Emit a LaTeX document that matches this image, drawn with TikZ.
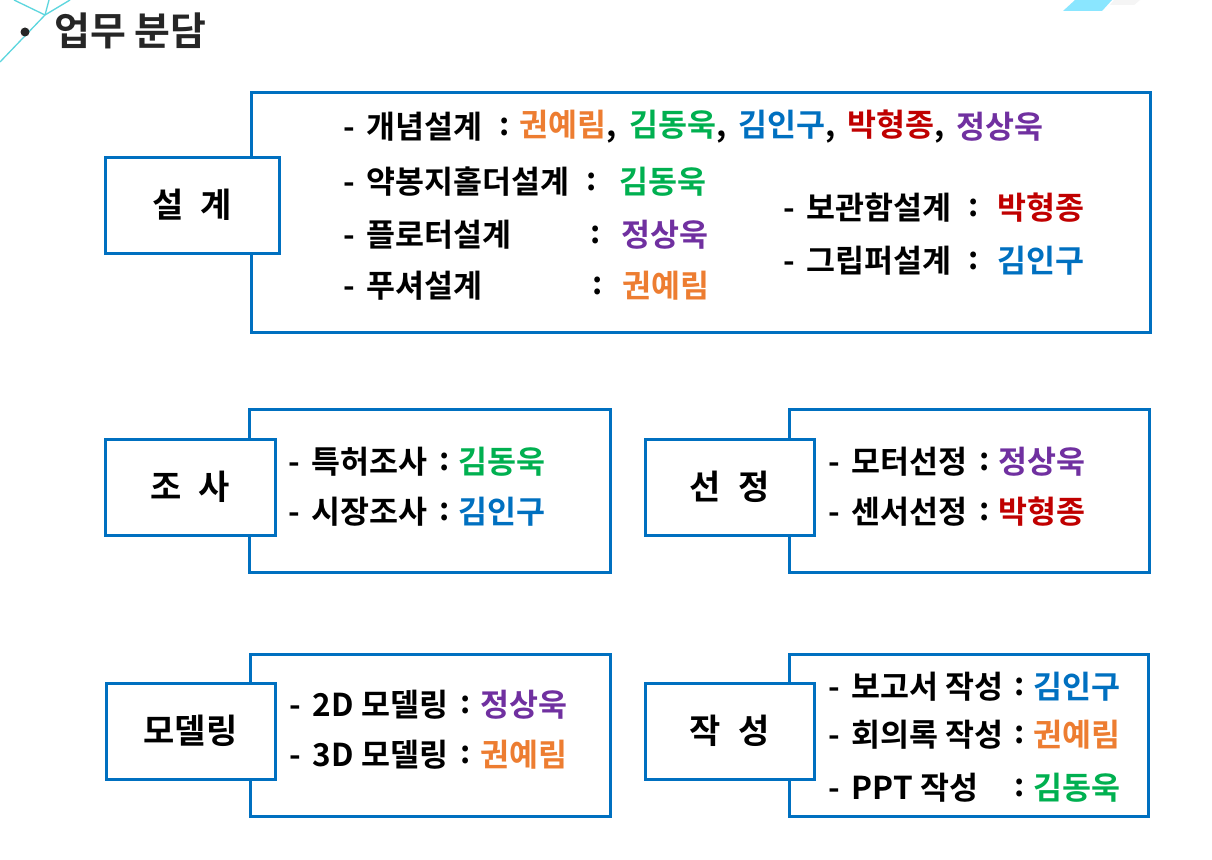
\documentclass[tikz,border=0pt]{standalone}
\usepackage{fontspec}
\setmainfont{Noto Sans CJK KR}[BoldFont=* Bold]
\definecolor{boxblue}{HTML}{0070C0}
\definecolor{corange}{HTML}{ED7D31}
\definecolor{cgreen}{HTML}{00B050}
\definecolor{cblue}{HTML}{0070C0}
\definecolor{cred}{HTML}{C00000}
\definecolor{cpurple}{HTML}{7030A0}
\definecolor{titlegray}{HTML}{262626}
\definecolor{decocyan}{HTML}{5CD6DE}
\definecolor{decosky}{HTML}{8AE6FF}
\newcommand{\txtfont}{\bfseries\fontsize{31.5}{34}\selectfont}
\newcommand{\labfont}{\bfseries\fontsize{34}{38}\selectfont}
\newcommand{\dsh}{-\hspace{12pt}}
\newcommand{\lsp}{\hspace{17pt}}
\begin{document}
\begin{tikzpicture}[x=1pt,y=-1pt,
  bigbox/.style={draw=boxblue, line width=3pt, fill=white, inner sep=0pt, anchor=north west},
  labbox/.style={draw=boxblue, line width=3pt, fill=white, inner sep=0pt, font=\labfont, text=black},
  txt/.style={anchor=west, inner sep=0pt, font=\txtfont, text=black},
  deco/.style={draw=decocyan, line width=1.3pt}]
\fill[white] (0,0) rectangle (1212,859);
\useasboundingbox (0,0) rectangle (1212,859);
% decorations
\draw[deco] (0,62) -- (45,15) -- (70,0);
\draw[deco] (45,15) -- (49,0);
\draw[deco] (45,15) -- (14,0);
\fill[decosky] (1075,0) -- (1112,0) -- (1102,11) -- (1063,11) -- cycle;
\fill[black!4] (1114,0) -- (1140,0) -- (1134,5) -- (1110,5) -- cycle;
% title
\fill[titlegray] (25,32) circle (4.5);
\node[anchor=west, inner sep=0pt, font=\bfseries\fontsize{39}{42}\selectfont, text=titlegray] (title) at (54,31) {업무 분담};
% big boxes
\node[bigbox, minimum width=899, minimum height=240] (b1) at (250,91) {};
\node[bigbox, minimum width=361, minimum height=163] (b2) at (248,408) {};
\node[bigbox, minimum width=360, minimum height=163] (b3) at (788,408) {};
\node[bigbox, minimum width=360, minimum height=162] (b4) at (249,653) {};
\node[bigbox, minimum width=359, minimum height=162] (b5) at (788,653) {};
% label boxes
\node[labbox, minimum width=174, minimum height=96] (l1) at (192,205) {설\lsp 계};
\node[labbox, minimum width=170, minimum height=96] (l2) at (190,487) {조\lsp 사};
\node[labbox, minimum width=169, minimum height=96] (l3) at (729.5,487) {선\lsp 정};
\node[labbox, minimum width=169, minimum height=96] (l4) at (190.5,731) {모델링};
\node[labbox, minimum width=169, minimum height=96] (l5) at (729.5,731) {작\lsp 성};
% box 1 text
\node[txt] (t11) at (343,127) {\dsh 개념설계};
\node[txt] (c11) at (499,127) {:};
\node[txt] (n11a) at (519,127) {{\color{corange}권예림},};
\node[txt] (n11b) at (629,127) {{\color{cgreen}김동욱},};
\node[txt] (n11c) at (738,127) {{\color{cblue}김인구},};
\node[txt] (n11d) at (847,127) {{\color{cred}박형종},};
\node[txt] (n11e) at (956,127) {{\color{cpurple}정상욱}};
\node[txt] (t12) at (343,182) {\dsh 약봉지홀더설계};
\node[txt] (c12) at (586,182) {:};
\node[txt, text=cgreen] (n12) at (619,182) {김동욱};
\node[txt] (t13) at (343,235) {\dsh 플로터설계};
\node[txt] (c13) at (590,235) {:};
\node[txt, text=cpurple] (n13) at (621,235) {정상욱};
\node[txt] (t14) at (343,286) {\dsh 푸셔설계};
\node[txt] (c14) at (592,286) {:};
\node[txt, text=corange] (n14) at (622,286) {권예림};
\node[txt] (t15) at (783,208) {\dsh 보관함설계};
\node[txt] (c15) at (968,208) {:};
\node[txt, text=cred] (n15) at (997,208) {박형종};
\node[txt] (t16) at (783,261) {\dsh 그립퍼설계};
\node[txt] (c16) at (968,261) {:};
\node[txt, text=cblue] (n16) at (997,261) {김인구};
% box 2 text
\node[txt] (t21) at (288,462) {\dsh 특허조사};
\node[txt] (c21) at (439,462) {:};
\node[txt, text=cgreen] (n21) at (458,462) {김동욱};
\node[txt] (t22) at (288,512) {\dsh 시장조사};
\node[txt] (c22) at (439,512) {:};
\node[txt, text=cblue] (n22) at (458,512) {김인구};
% box 3 text
\node[txt] (t31) at (828,462) {\dsh 모터선정};
\node[txt] (c31) at (979,462) {:};
\node[txt, text=cpurple] (n31) at (998,462) {정상욱};
\node[txt] (t32) at (828,512) {\dsh 센서선정};
\node[txt] (c32) at (979,512) {:};
\node[txt, text=cred] (n32) at (998,512) {박형종};
% box 4 text
\node[txt] (t41) at (289,705) {\dsh 2D 모델링};
\node[txt] (c41) at (460,705) {:};
\node[txt, text=cpurple] (n41) at (480,705) {정상욱};
\node[txt] (t42) at (289,755) {\dsh 3D 모델링};
\node[txt] (c42) at (460,755) {:};
\node[txt, text=corange] (n42) at (480,755) {권예림};
% box 5 text
\node[txt] (t51) at (828,687) {\dsh 보고서 작성};
\node[txt] (c51) at (1014,687) {:};
\node[txt, text=cblue] (n51) at (1033,687) {김인구};
\node[txt] (t52) at (828,735) {\dsh 회의록 작성};
\node[txt] (c52) at (1014,735) {:};
\node[txt, text=corange] (n52) at (1033,735) {권예림};
\node[txt] (t53) at (828,788) {\dsh PPT 작성};
\node[txt] (c53) at (1014,788) {:};
\node[txt, text=cgreen] (n53) at (1033,788) {김동욱};
\end{tikzpicture}
\end{document}
